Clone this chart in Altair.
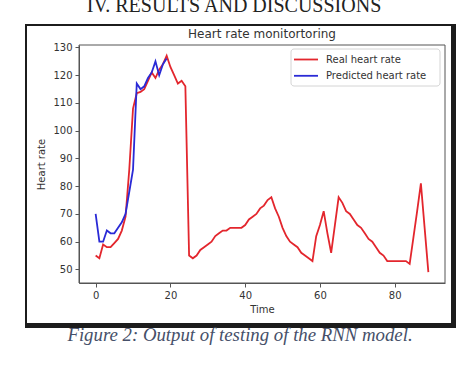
import altair as alt
import pandas as pd

# ---- data ----
real_hr = [55, 54, 59, 58, 58, 59.5, 61, 64, 69, 86,
           108, 113.5, 114, 115, 118, 121, 119, 122, 124, 127,
           123, 120, 117, 118, 116, 55, 54, 55, 57, 58,
           59, 60, 62, 63, 64, 64, 65, 65, 65, 65,
           66, 68, 69, 70, 72, 73, 75, 76, 72, 69,
           65, 62, 60, 59, 58, 56, 55, 54, 53, 62,
           66, 71, 63, 56, 66, 76, 74, 71, 70, 68,
           66, 65, 63, 61, 60, 58, 56, 55, 53, 53,
           53, 53, 53, 53, 52, 61.5, 71, 81, 65, 49]
pred_hr = [70, 60, 60, 64, 63, 63, 65, 67, 70, 78,
           86, 117, 115, 116, 119, 121, 125, 120, 124, 126]
series_names = ["Real heart rate", "Predicted heart rate"]
series_colors = ["#e3262d", "#2a2ad6"]
x_ticks = [0, 20, 40, 60, 80]
y_ticks = [50, 60, 70, 80, 90, 100, 110, 120, 130]
header_text = "IV.  RESULTS AND DISCUSSIONS"
title_text = "Heart rate monitortoring"
caption_text = "Figure 2: Output of testing of the RNN model."

df_real = pd.DataFrame({"t": list(range(len(real_hr))), "hr": real_hr, "series": series_names[0]})
df_pred = pd.DataFrame({"t": list(range(len(pred_hr))), "hr": pred_hr, "series": series_names[1]})

W, H = 366, 238
one = alt.Data(values=[{}])

x_scale = alt.Scale(domain=[-4.45, 93.45], nice=False, zero=False)
y_scale = alt.Scale(domain=[45.1, 130.9], nice=False, zero=False)

x_enc = alt.X("t:Q", scale=x_scale,
              axis=alt.Axis(values=x_ticks, title="Time", titlePadding=4, format="d", zindex=1))
y_enc = alt.Y("hr:Q", scale=y_scale,
              axis=alt.Axis(values=y_ticks, title="Heart rate", titlePadding=6, format="d", zindex=1))

# frame around the figure (strokes and bars only, nothing covers the axes)
frame_thin = alt.Chart(one).mark_rect(fill="transparent", stroke="#1c1c1c", strokeWidth=2).encode(
    x=alt.value(-53), x2=alt.value(375), y=alt.value(-20), y2=alt.value(280))
frame_bottom = alt.Chart(one).mark_rect(color="#1c1c1c").encode(
    x=alt.value(-54), x2=alt.value(377), y=alt.value(278), y2=alt.value(283))
frame_right = alt.Chart(one).mark_rect(color="#1c1c1c").encode(
    x=alt.value(372), x2=alt.value(377), y=alt.value(-21), y2=alt.value(283))

line_real = alt.Chart(df_real).mark_line(strokeWidth=1.8, color=series_colors[0]).encode(x=x_enc, y=y_enc)
line_pred = alt.Chart(df_pred).mark_line(strokeWidth=1.8, color=series_colors[1]).encode(x=x_enc, y=y_enc)

spines = alt.Chart(one).mark_rect(fill="transparent", stroke="#555555", strokeWidth=1).encode(
    x=alt.value(0), x2=alt.value(W), y=alt.value(0), y2=alt.value(H))

title = alt.Chart(one).mark_text(text=title_text, font="DejaVu Sans", fontSize=12,
                                 color="#333333", baseline="alphabetic", align="center").encode(
    x=alt.value(W / 2), y=alt.value(-7))

header = alt.Chart(one).mark_text(text=header_text, font="Liberation Serif", fontSize=20,
                                  color="#222222", baseline="alphabetic", align="center").encode(
    x=alt.value(155), y=alt.value(-33))

caption = alt.Chart(one).mark_text(text=caption_text, font="Liberation Serif", fontSize=18.8,
                                   fontStyle="italic", color="#465069", baseline="alphabetic",
                                   align="center").encode(
    x=alt.value(161), y=alt.value(296))

# legend
legend_box = alt.Chart(one).mark_rect(fill="white", stroke="#d4d4d4", strokeWidth=1, cornerRadius=3).encode(
    x=alt.value(212), x2=alt.value(361), y=alt.value(4), y2=alt.value(41))
legend_layers = [legend_box]
for i, (name, col) in enumerate(zip(series_names, series_colors)):
    yy = 14.5 + 16.3 * i
    legend_layers.append(alt.Chart(one).mark_rule(color=col, strokeWidth=1.8).encode(
        x=alt.value(215), x2=alt.value(239), y=alt.value(yy)))
    legend_layers.append(alt.Chart(one).mark_text(text=name, font="DejaVu Sans", fontSize=10,
                                                  color="#333333", align="left", baseline="middle").encode(
        x=alt.value(247), y=alt.value(yy)))

chart = alt.layer(line_real, line_pred, frame_thin, frame_bottom, frame_right, spines, title, header,
                  caption, *legend_layers).properties(
    width=W, height=H,
    padding={"left": 79, "top": 45, "right": 29, "bottom": 92},
    autosize=alt.AutoSizeParams(type="none"),
    background="white",
).configure_view(strokeWidth=0).configure_axis(
    grid=False, domainColor="#555555", tickColor="#555555", tickSize=4,
    labelColor="#333333", titleColor="#333333", labelFont="DejaVu Sans", titleFont="DejaVu Sans",
    labelFontSize=10, titleFontSize=10, titleFontWeight="normal", labelPadding=3,
)

chart.save("out.html", embed_options={"renderer": "svg", "actions": False})
